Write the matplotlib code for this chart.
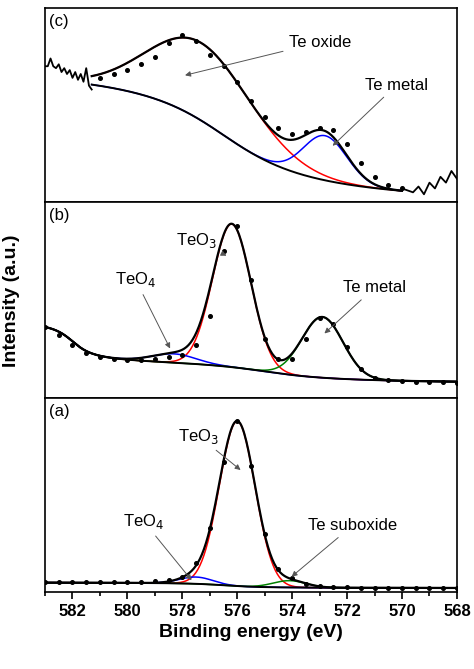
import numpy as np
import matplotlib
matplotlib.use("Agg")
import matplotlib.pyplot as plt

plt.rcParams['font.family'] = ['Liberation Sans', 'DejaVu Sans']

# ---- data ----
E_dots = [583.0 - 0.5 * i for i in range(31)]
a_dots = [.05, .05, .05, .05, .05, .05, .05, .05, .055, .06, .08, .15, .33, .67, .88, .65,
          .30, .12, .07, .04, .03, .025, .025, .022, .02, .02, .02, .02, .02, .02, .02]
b_dots = [.36, .32, .27, .23, .21, .20, .195, .195, .20, .21, .22, .27, .42, .75, .88, .60,
          .30, .20, .20, .30, .41, .38, .26, .15, .10, .09, .085, .08, .08, .08, .075]
E_c_dots = [581.0 - 0.5 * i for i in range(23)]
c_dots = [.64, .66, .68, .71, .75, .82, .86, .83, .76, .70, .62, .52, .44, .38, .35, .36,
          .38, .37, .30, .20, .13, .09, .07]
E_c_raw_l = [583.0, 582.9, 582.8, 582.7, 582.6, 582.5, 582.4, 582.3, 582.2, 582.1, 582.0,
             581.9, 581.8, 581.7, 581.6, 581.5, 581.4, 581.3]
c_raw_l = [.70, .70, .74, .70, .69, .71, .67, .69, .66, .68, .64, .67, .63, .66, .62, .69, .60, .58]
E_c_raw_r = [570.0, 569.8, 569.6, 569.4, 569.2, 569.0, 568.8, 568.6, 568.4, 568.2, 568.0]
c_raw_r = [.07, .06, .05, .08, .04, .10, .07, .13, .10, .16, .12]

# background params: base, [(amp, center, width)]
a_bg = (0.02, [(0.03, 576.5, 1.0)])
b_bg = (0.07, [(0.12, 575.0, 2.0), (0.22, 582.0, 0.6)])
c_bg = (-0.03, [(0.75, 576.5, 2.5)])
# peaks: (center, height, sigma, colour)
a_peaks = [(576.0, 0.85, 0.65, 'red'), (577.5, 0.035, 0.6, 'blue'), (574.1, 0.035, 0.6, 'green')]
b_peaks = [(576.2, 0.73, 0.70, 'red'), (578.3, 0.045, 0.8, 'blue'), (572.9, 0.31, 0.75, 'green')]
c_peaks = [(577.3, 0.40, 1.9, 'red'), (572.8, 0.23, 0.8, 'blue')]


def bg(x, p):
    base, steps = p
    y = np.full_like(x, base)
    for amp, c, w in steps:
        y += amp * (0.5 + np.arctan((x - c) / w) / np.pi)
    return y


def gauss(x, c, h, s):
    return h * np.exp(-(x - c) ** 2 / (2 * s ** 2))


fig = plt.figure(figsize=(4.74, 6.69), dpi=100)
L, R = 0.095, 0.964
ax_c = fig.add_axes([L, 0.698, R - L, 0.290])
ax_b = fig.add_axes([L, 0.405, R - L, 0.293])
ax_a = fig.add_axes([L, 0.115, R - L, 0.290])


def panel(ax, ed, dots, bgp, peaks, xr):
    x = np.linspace(xr[0], xr[1], 400)
    b = bg(x, bgp)
    total = b.copy()
    for c, h, s, col in peaks:
        g = gauss(x, c, h, s)
        total += g
        ax.plot(x, b + g, color=col, lw=1.1)
    ax.plot(x, b, color='black', lw=1.4)
    ax.plot(x, total, color='black', lw=1.6)
    ax.plot(ed, dots, 'o', color='black', ms=2.6)


panel(ax_a, E_dots, a_dots, a_bg, a_peaks, (583, 568))
panel(ax_b, E_dots, b_dots, b_bg, b_peaks, (583, 568))
panel(ax_c, E_c_dots, c_dots, c_bg, c_peaks, (581.3, 570))
ax_c.plot(E_c_raw_l, c_raw_l, color='black', lw=1.3)
ax_c.plot(E_c_raw_r, c_raw_r, color='black', lw=1.3)

arrow = dict(arrowstyle='-|>', color='#555555', lw=0.7, mutation_scale=8)
fs = 12
ax_a.annotate('TeO$_3$', xy=(575.8, 0.62), xytext=(577.4, 0.78), fontsize=fs, arrowprops=arrow, ha='center')
ax_a.annotate('TeO$_4$', xy=(577.6, 0.05), xytext=(579.4, 0.34), fontsize=fs, arrowprops=arrow, ha='center')
ax_a.annotate('Te suboxide', xy=(574.1, 0.07), xytext=(571.8, 0.32), fontsize=fs, arrowprops=arrow, ha='center')
ax_b.annotate('TeO$_3$', xy=(576.3, 0.72), xytext=(577.5, 0.78), fontsize=fs, arrowprops=arrow, ha='center')
ax_b.annotate('TeO$_4$', xy=(578.4, 0.24), xytext=(579.7, 0.58), fontsize=fs, arrowprops=arrow, ha='center')
ax_b.annotate('Te metal', xy=(572.9, 0.32), xytext=(571.0, 0.54), fontsize=fs, arrowprops=arrow, ha='center')
ax_c.annotate('Te oxide', xy=(578.0, 0.65), xytext=(573.0, 0.80), fontsize=fs, arrowprops=arrow, ha='center')
ax_c.annotate('Te metal', xy=(572.6, 0.28), xytext=(570.2, 0.58), fontsize=fs, arrowprops=arrow, ha='center')

for ax, lab in [(ax_a, '(a)'), (ax_b, '(b)'), (ax_c, '(c)')]:
    ax.set_xlim(583, 568)
    ax.set_ylim(0, 1)
    ax.set_yticks([])
    ax.text(0.01, 0.97, lab, transform=ax.transAxes, fontsize=12, va='top', ha='left')
    ax.set_xticks(range(568, 584, 2))
    ax.set_xticks(range(569, 584, 2), minor=True)
    ax.tick_params(axis='x', which='both', direction='out', width=1.2)
    ax.tick_params(axis='x', which='major', length=5)
    ax.tick_params(axis='x', which='minor', length=3)
    for s in ax.spines.values():
        s.set_linewidth(1.2)
    if ax is not ax_a:
        ax.tick_params(axis='x', which='both', length=0, labelbottom=False)

for t in ax_a.get_xticklabels():
    t.set_fontweight('bold')
    t.set_fontsize(12)
ax_a.set_xlabel('Binding energy (eV)', fontsize=14, fontweight='bold')
fig.text(0.025, 0.55, 'Intensity (a.u.)', rotation=90, fontsize=14, fontweight='bold', va='center', ha='center')

fig.savefig('out.png', dpi=100)
